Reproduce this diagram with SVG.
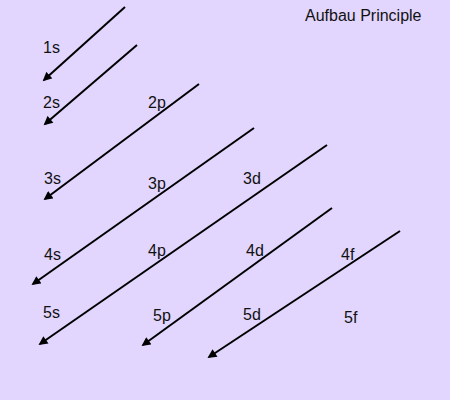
<svg xmlns="http://www.w3.org/2000/svg" width="450" height="400" viewBox="0 0 450 400">
<style>
text{font-family:"Liberation Sans",Arial,sans-serif;font-size:16px;fill:#111}
.c line{stroke:#000;stroke-width:2;marker-end:url(#ah)}
</style>
<defs>
<marker id="ah" viewBox="0 0 10 10" refX="8" refY="5" markerWidth="5" markerHeight="4.5" orient="auto" markerUnits="strokeWidth">
<path d="M0,0 L10,5 L0,10 z" fill="#000"/>
</marker>
</defs>
<rect width="450" height="400" fill="#e2d6fe"/>
<text id="title" x="305" y="21">Aufbau Principle</text>
<g class="c" id="connectors">
<line x1="125" y1="7" x2="44" y2="80"/>
<line x1="137" y1="45" x2="45" y2="124"/>
<line x1="199" y1="84" x2="45" y2="199"/>
<line x1="254" y1="128" x2="33" y2="284"/>
<line x1="327" y1="145" x2="40" y2="344"/>
<line x1="332" y1="208" x2="143" y2="345"/>
<line x1="400" y1="231" x2="209" y2="357"/>
</g>
<g id="n1s"><text x="43" y="53">1s</text></g>
<g id="n2s"><text x="43" y="108">2s</text></g>
<g id="n2p"><text x="148" y="108">2p</text></g>
<g id="n3s"><text x="44" y="184">3s</text></g>
<g id="n3p"><text x="148" y="189">3p</text></g>
<g id="n3d"><text x="243" y="184">3d</text></g>
<g id="n4s"><text x="44" y="260">4s</text></g>
<g id="n4p"><text x="148" y="256">4p</text></g>
<g id="n4d"><text x="246" y="256">4d</text></g>
<g id="n4f"><text x="341" y="260">4f</text></g>
<g id="n5s"><text x="43" y="318">5s</text></g>
<g id="n5p"><text x="153" y="321">5p</text></g>
<g id="n5d"><text x="243" y="320">5d</text></g>
<g id="n5f"><text x="344" y="323">5f</text></g>
</svg>
